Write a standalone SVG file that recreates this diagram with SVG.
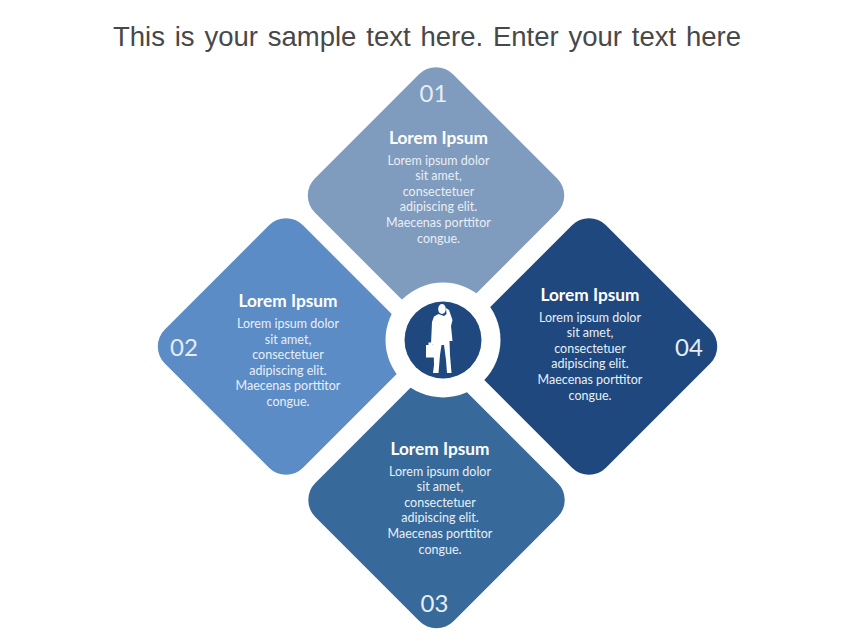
<svg xmlns="http://www.w3.org/2000/svg" xmlns:xlink="http://www.w3.org/1999/xlink" width="853" height="640" viewBox="0 0 853 640">
<style>
text{font-family:"Lato","Liberation Sans",sans-serif;fill:#fff;text-anchor:middle}
.t{font-family:"Liberation Sans",Arial,sans-serif;fill:#484848;font-size:27.5px;word-spacing:2.2px}
.h{font-size:17.3px;font-weight:700}
.b{font-size:12.5px;fill:#e9eff6}
.n{font-size:24px;fill:#e6edf5}
</style>
<defs><rect id="d" x="-97.7" y="-97.7" width="195.4" height="195.4" rx="24"/></defs>
<rect width="853" height="640" fill="#fff"/>
<text class="t" x="427" y="46">This is your sample text here. Enter your text here</text>
<g id="node-01"><use xlink:href="#d" href="#d" transform="translate(436 195.500) rotate(45)" fill="#7f9bbd"/>
<text class="n" x="433.500" y="101.500">01</text><text class="h" x="438.500" y="144">Lorem Ipsum</text>
<text class="b" x="438.500" y="164.500">Lorem ipsum dolor</text><text class="b" x="438.500" y="180">sit amet,</text><text class="b" x="438.500" y="195.700">consectetuer</text><text class="b" x="438.500" y="211.300">adipiscing elit.</text><text class="b" x="438.500" y="226.900">Maecenas porttitor</text><text class="b" x="438.500" y="242.500">congue.</text></g>
<g id="node-02"><use xlink:href="#d" href="#d" transform="translate(286 346.500) rotate(45)" fill="#5b8cc6"/>
<text class="n" x="184" y="355.500">02</text><text class="h" x="288" y="307">Lorem Ipsum</text>
<text class="b" x="288" y="328">Lorem ipsum dolor</text><text class="b" x="288" y="343.500">sit amet,</text><text class="b" x="288" y="359.200">consectetuer</text><text class="b" x="288" y="374.800">adipiscing elit.</text><text class="b" x="288" y="390.400">Maecenas porttitor</text><text class="b" x="288" y="406">congue.</text></g>
<g id="node-03"><use xlink:href="#d" href="#d" transform="translate(436.500 500) rotate(45)" fill="#376a9a"/>
<text class="n" x="434.500" y="611.500">03</text><text class="h" x="440" y="455">Lorem Ipsum</text>
<text class="b" x="440" y="475.500">Lorem ipsum dolor</text><text class="b" x="440" y="491">sit amet,</text><text class="b" x="440" y="506.700">consectetuer</text><text class="b" x="440" y="522.300">adipiscing elit.</text><text class="b" x="440" y="537.900">Maecenas porttitor</text><text class="b" x="440" y="553.500">congue.</text></g>
<g id="node-04"><use xlink:href="#d" href="#d" transform="translate(589 346.500) rotate(45)" fill="#1f487f"/>
<text class="n" x="689" y="355.500">04</text><text class="h" x="590" y="301">Lorem Ipsum</text>
<text class="b" x="590" y="321.500">Lorem ipsum dolor</text><text class="b" x="590" y="337">sit amet,</text><text class="b" x="590" y="352.700">consectetuer</text><text class="b" x="590" y="368.300">adipiscing elit.</text><text class="b" x="590" y="383.900">Maecenas porttitor</text><text class="b" x="590" y="399.500">congue.</text></g>
<g id="center"><circle cx="443" cy="340" r="57.500" fill="#fff"/><circle cx="443" cy="340" r="38.500" fill="#1f487f"/>
<g fill="#fff"><ellipse cx="442" cy="309" rx="3.800" ry="5"/>
<path d="M438.500,314L434,316.500L432,322L431,344L433.500,345L434,365L433,373L438.500,373L440,355L441.500,345L444,345L446,360L447,373L451.500,373L450,355L449.500,341L452.500,341L451,326L452.500,320L449,310L446,308L446.500,314L444,316Z"/>
<rect x="426" y="345" width="8" height="12.500"/><rect x="428.500" y="342.500" width="4" height="2.500"/></g></g>
<g id="connectors"/>
</svg>
